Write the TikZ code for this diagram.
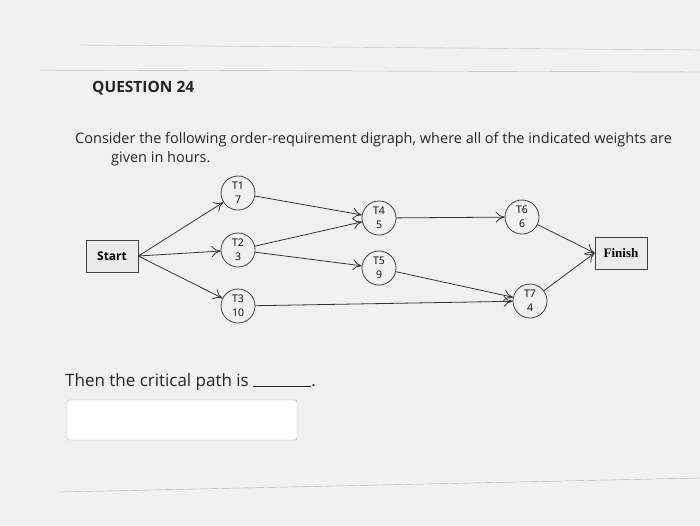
\documentclass[tikz,border=0pt]{standalone}
\usepackage{fontspec}
\setmainfont{Open Sans}
\newfontfamily\serifb{Liberation Serif}
\usetikzlibrary{arrows.meta}
\begin{document}
\begin{tikzpicture}[x=1pt,y=-1pt,
  task/.style={circle,draw=black!75,thick,minimum size=34pt,inner sep=0pt,font=\fontsize{10.5}{11}\selectfont,align=center},
  term/.style={draw=black!75,thick,fill=black!8,minimum width=52pt,minimum height=32pt,font=\fontsize{12}{14}\selectfont\bfseries},
  edge/.style={draw=black!80,thick,-{To[length=9pt,width=11pt]}},
  txt/.style={anchor=west,inner sep=0pt,text=black!85}]
\fill[black!6] (0,0) rectangle (700,525);
\useasboundingbox (0,0) rectangle (700,525);
\draw[black!25] (80,45) -- (700,50);
\draw[black!30] (40,70) -- (700,72);
\draw[black!30] (60,492) -- (700,478);
\node[txt,font=\fontsize{15.5}{18}\selectfont\bfseries] (q) at (92,88) {QUESTION 24};
\node[txt,font=\fontsize{14.5}{17}\selectfont] (l1) at (75,140) {Consider the following order-requirement digraph, where all of the indicated weights are};
\node[txt,font=\fontsize{14.5}{17}\selectfont] (l2) at (111,159) {given in hours.};
\node[term] (S) at (112,256) {Start};
\node[term,font=\serifb\bfseries\fontsize{13}{15}\selectfont] (F) at (621,253) {Finish};
\node[task] (T1) at (238,193) {T1\\[3pt]7};
\node[task] (T2) at (238,250) {T2\\[3pt]3};
\node[task] (T3) at (238,306) {T3\\[3pt]10};
\node[task] (T4) at (379,218) {T4\\[3pt]5};
\node[task] (T5) at (379,268) {T5\\[3pt]9};
\node[task] (T6) at (522,217) {T6\\[3pt]6};
\node[task] (T7) at (530,301) {T7\\[3pt]4};
\draw[edge] (S.east) -- (T1);
\draw[edge] (S.east) -- (T2);
\draw[edge] (S.east) -- (T3);
\draw[edge] (T1) -- (T4);
\draw[edge] (T2) -- (T4);
\draw[edge] (T2) -- (T5);
\draw[edge] (T4) -- (T6);
\draw[edge] (T5) -- (T7);
\draw[edge] (T3) -- (T7);
\draw[edge] (T6) -- (F.west);
\draw[edge] (T7) -- (F.west);
\node[txt,font=\fontsize{17}{20}\selectfont] (cp) at (65,382) {Then the critical path is \rule{58pt}{0.5pt}.};
\node[draw=black!30,fill=white,rounded corners=2pt,minimum width=230pt,minimum height=40pt] (box) at (182,420) {};
\end{tikzpicture}
\end{document}
